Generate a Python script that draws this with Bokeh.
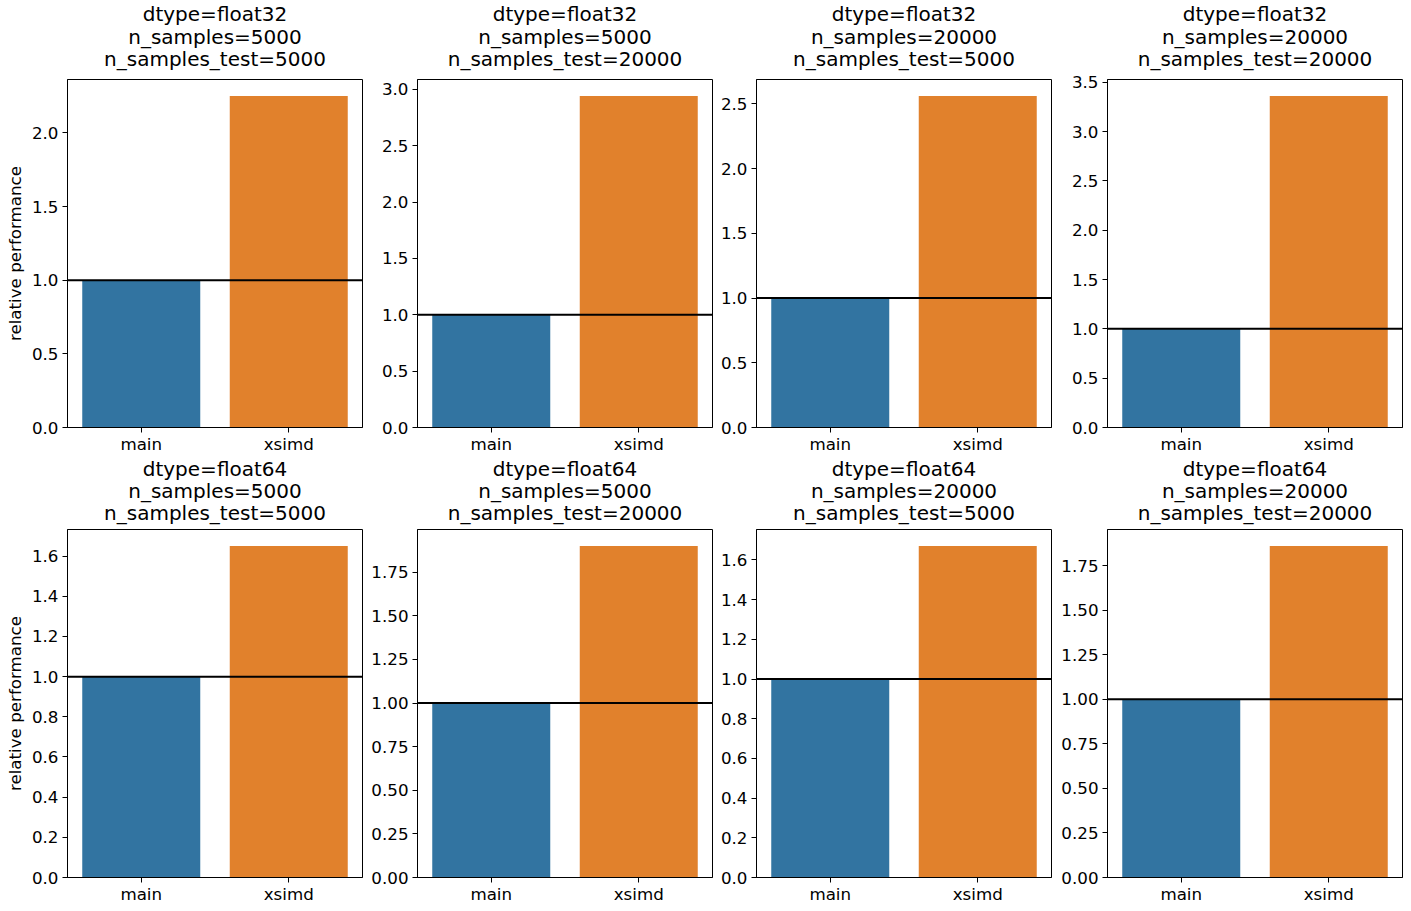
from bokeh.plotting import figure
from bokeh.models import ColumnDataSource, Range1d, FactorRange, FixedTicker, Span
from bokeh.core.properties import value
from bokeh.layouts import gridplot
from bokeh.embed import file_html
from bokeh.resources import INLINE

# ---- data ----
categories = ["main", "xsimd"]
bar_colors = ["#3274a1", "#e1812c"]
dtypes = ["float32", "float32", "float32", "float32", "float64", "float64", "float64", "float64"]
n_samples = [5000, 5000, 20000, 20000, 5000, 5000, 20000, 20000]
n_samples_test = [5000, 20000, 5000, 20000, 5000, 20000, 5000, 20000]
main_values = [1.0, 1.0, 1.0, 1.0, 1.0, 1.0, 1.0, 1.0]
xsimd_values = [2.25, 2.94, 2.56, 3.36, 1.65, 1.90, 1.67, 1.86]
reference_level = 1.0

y_ticks = [
    [0.0, 0.5, 1.0, 1.5, 2.0],
    [0.0, 0.5, 1.0, 1.5, 2.0, 2.5, 3.0],
    [0.0, 0.5, 1.0, 1.5, 2.0, 2.5],
    [0.0, 0.5, 1.0, 1.5, 2.0, 2.5, 3.0, 3.5],
    [0.0, 0.2, 0.4, 0.6, 0.8, 1.0, 1.2, 1.4, 1.6],
    [0.0, 0.25, 0.5, 0.75, 1.0, 1.25, 1.5, 1.75],
    [0.0, 0.2, 0.4, 0.6, 0.8, 1.0, 1.2, 1.4, 1.6],
    [0.0, 0.25, 0.5, 0.75, 1.0, 1.25, 1.5, 1.75],
]
y_tick_labels = [
    ["0.0", "0.5", "1.0", "1.5", "2.0"],
    ["0.0", "0.5", "1.0", "1.5", "2.0", "2.5", "3.0"],
    ["0.0", "0.5", "1.0", "1.5", "2.0", "2.5"],
    ["0.0", "0.5", "1.0", "1.5", "2.0", "2.5", "3.0", "3.5"],
    ["0.0", "0.2", "0.4", "0.6", "0.8", "1.0", "1.2", "1.4", "1.6"],
    ["0.00", "0.25", "0.50", "0.75", "1.00", "1.25", "1.50", "1.75"],
    ["0.0", "0.2", "0.4", "0.6", "0.8", "1.0", "1.2", "1.4", "1.6"],
    ["0.00", "0.25", "0.50", "0.75", "1.00", "1.25", "1.50", "1.75"],
]
y_label = "relative performance"

# ---- layout ----
FONT = "DejaVu Sans"
FW, FH = 295, 348
col_left = [67, 53, 43, 54]
col_right = [2, 1, 2, 1]
plot_top = [8, 1]           # top border of the bar plots (room for a tick label near the top)
title_h = [71, 71]          # height of the title strip above each row
title_shift = [4.5, 0.0]    # lift of the title lines so they clear the plot's top border
row_bottom = [30, 26]
title_baselines = [53.4, 31.0, 8.7]   # px above the frame top, one per title line
baseline_fix = 7.5                    # renderer places text lower than the given y by this much

rows = []
for r in range(2):
    title_figs, plot_figs = [], []
    for c in range(4):
        i = r * 4 + c

        # title strip (frame aligned with the bar plot's frame below it)
        t = figure(frame_width=FW, frame_height=title_h[r], title=None,
                   x_range=Range1d(0, FW), y_range=Range1d(0, title_h[r]),
                   x_axis_location=None, y_axis_location=None,
                   min_border_left=col_left[c], min_border_right=col_right[c],
                   min_border_top=0, min_border_bottom=0,
                   output_backend="svg", toolbar_location=None,
                   background_fill_color="white", border_fill_color="white")
        t.outline_line_color = None
        t.xgrid.visible = False
        t.ygrid.visible = False
        lines = [f"dtype={dtypes[i]}", f"n_samples={n_samples[i]}", f"n_samples_test={n_samples_test[i]}"]
        ys = [b + title_shift[r] - plot_top[r] + baseline_fix for b in title_baselines]
        tsrc = ColumnDataSource(dict(x=[FW / 2] * 3, y=ys, text=lines))
        t.text(x="x", y="y", text="text", source=tsrc, text_align="center",
               text_baseline="alphabetic", text_font=value(FONT), text_font_size=value("20px"),
               text_color="black")
        title_figs.append(t)

        # bar plot
        top = max(main_values[i], xsimd_values[i]) * 1.05
        p = figure(x_range=FactorRange(*categories, range_padding=0),
                   y_range=Range1d(0, top),
                   frame_width=FW, frame_height=FH,
                   min_border_left=col_left[c], min_border_right=col_right[c],
                   min_border_top=plot_top[r], min_border_bottom=row_bottom[r],
                   output_backend="svg", toolbar_location=None, title=None,
                   background_fill_color="white", border_fill_color="white")
        src = ColumnDataSource(dict(x=categories, top=[main_values[i], xsimd_values[i]], color=bar_colors))
        p.vbar(x="x", top="top", width=0.8, color="color", source=src, line_width=0)
        p.add_layout(Span(location=reference_level, dimension="width", line_color="black", line_width=2))

        p.xgrid.visible = False
        p.ygrid.visible = False
        p.outline_line_color = "black"
        p.outline_line_width = 1
        p.outline_line_alpha = 1

        p.yaxis.ticker = FixedTicker(ticks=y_ticks[i])
        p.yaxis.major_label_overrides = {tk: s for tk, s in zip(y_ticks[i], y_tick_labels[i])}
        for ax in (p.xaxis, p.yaxis):
            ax.axis_line_color = "black"
            ax.major_tick_line_color = "black"
            ax.major_tick_out = 5
            ax.major_tick_in = 0
            ax.minor_tick_line_color = None
            ax.major_label_text_font = FONT
            ax.major_label_text_font_size = "16.7px"
            ax.major_label_text_color = "black"
        p.xaxis.major_label_standoff = 1
        p.yaxis.major_label_standoff = 4
        if c == 0:
            p.yaxis.axis_label = y_label
            p.yaxis.axis_label_text_font = FONT
            p.yaxis.axis_label_text_font_size = "16.7px"
            p.yaxis.axis_label_text_font_style = "normal"
            p.yaxis.axis_label_text_color = "black"
            p.yaxis.axis_label_standoff = 4
        plot_figs.append(p)
    rows.append(title_figs)
    rows.append(plot_figs)

grid = gridplot(rows, toolbar_location=None)
open("out.html", "w").write(file_html(grid, INLINE))
